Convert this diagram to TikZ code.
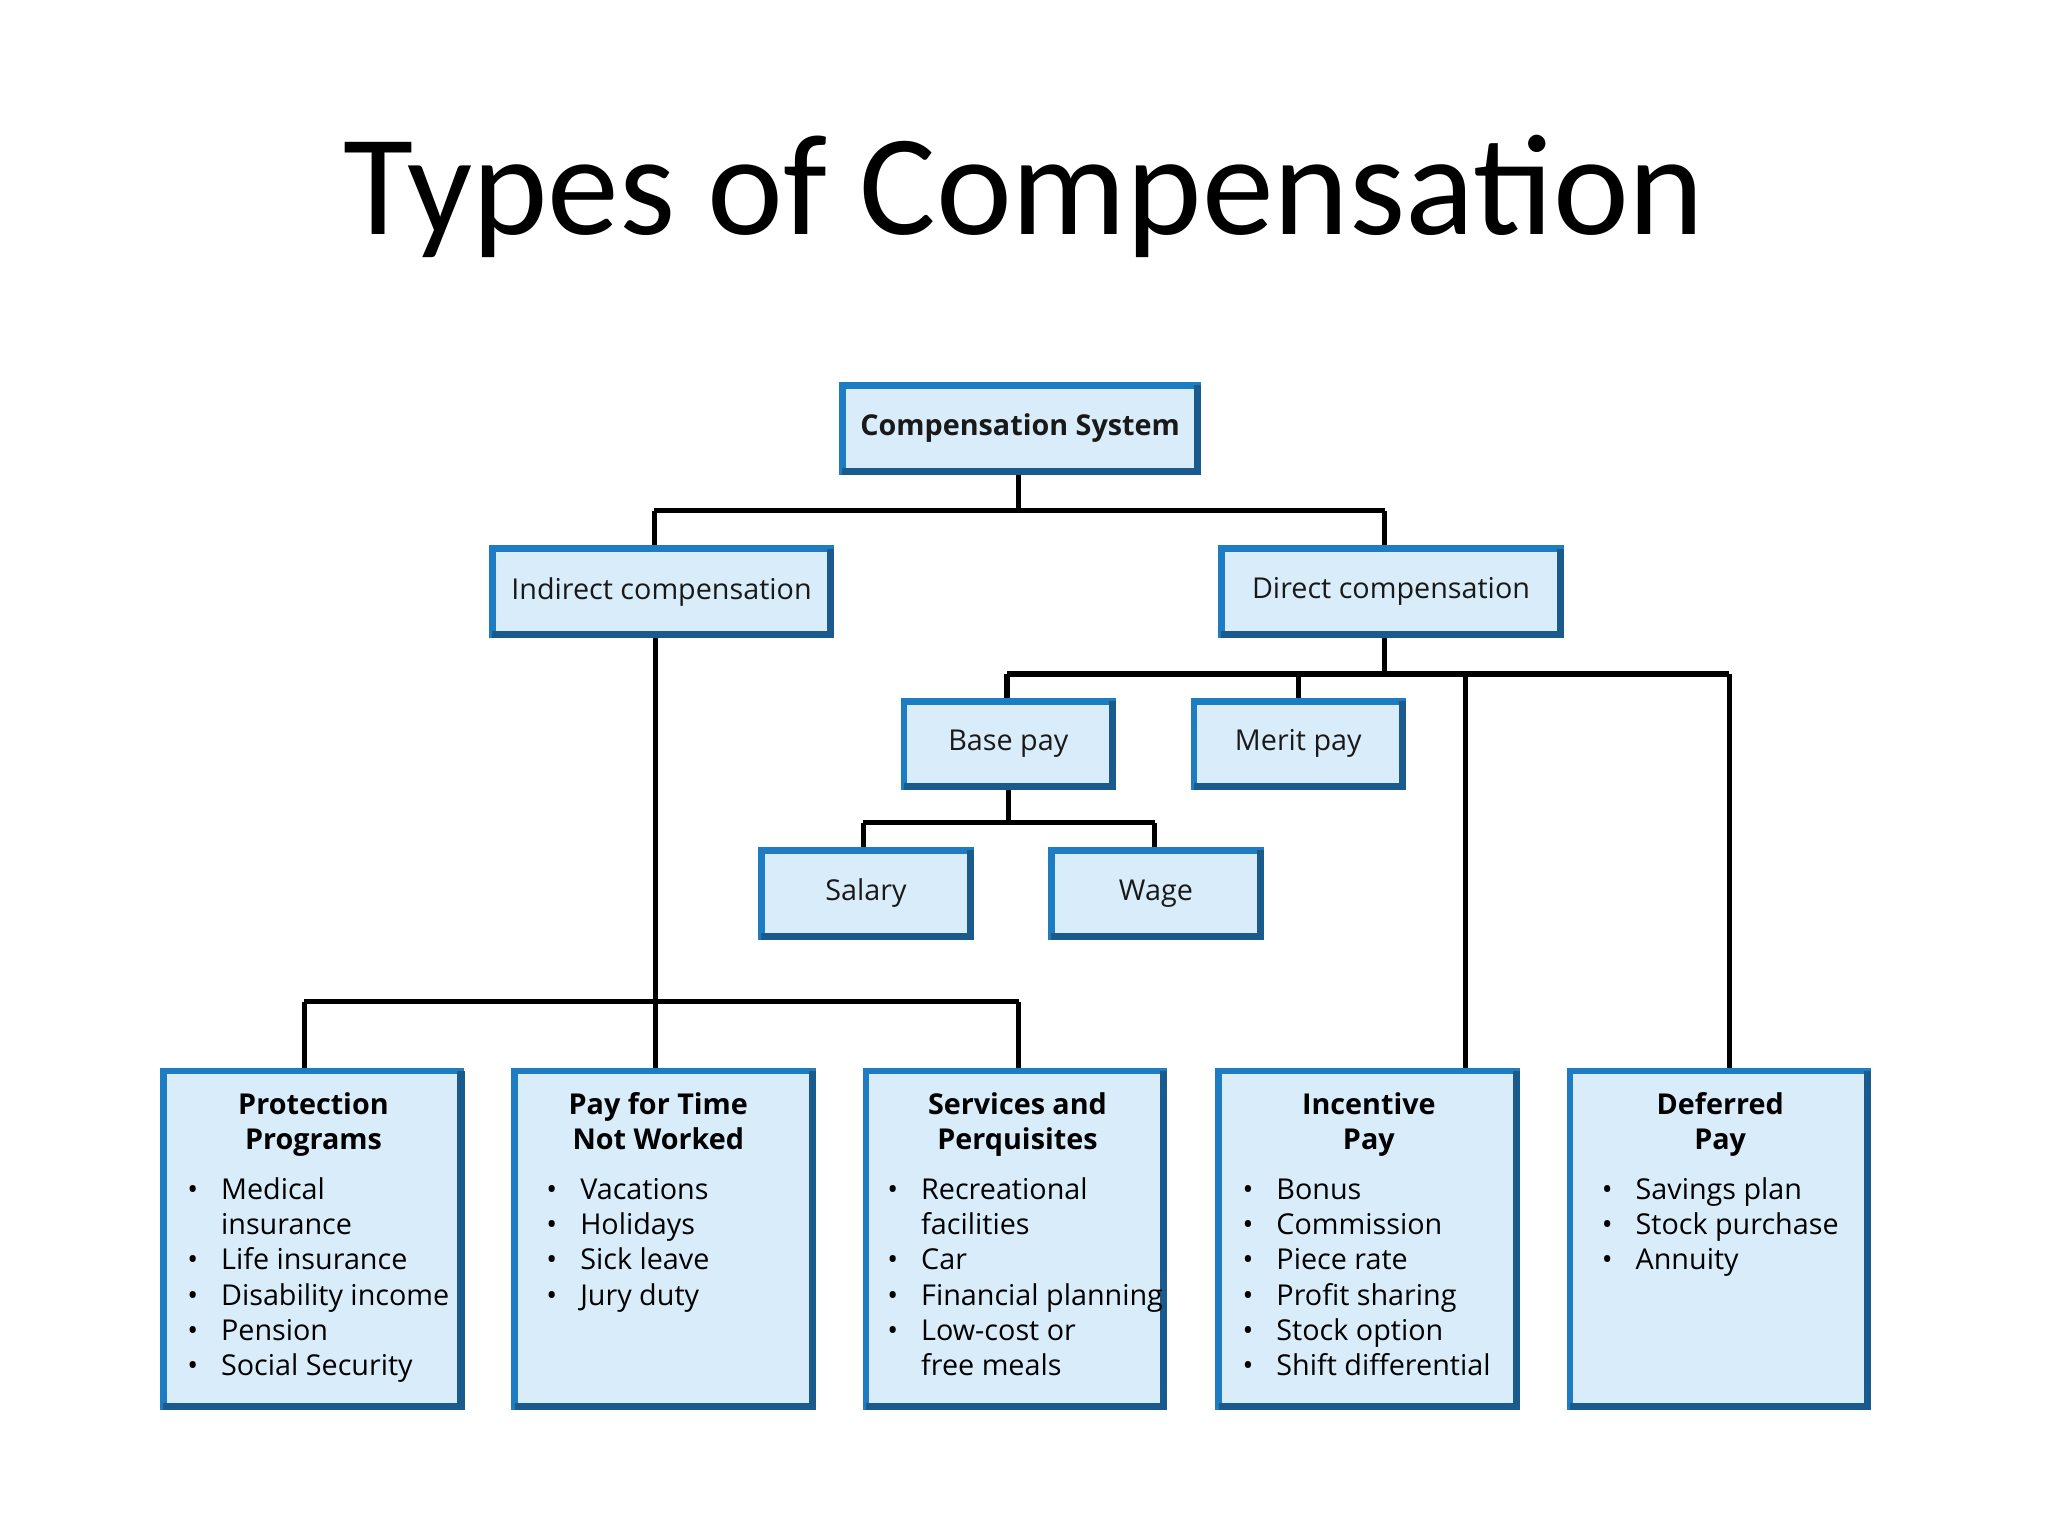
\documentclass[tikz,border=0pt]{standalone}
\usepackage{fontspec}
\setmainfont{Open Sans}
\newfontfamily\titlefont{Carlito}
\definecolor{bblue}{HTML}{1E7DC2}
\definecolor{bdark}{HTML}{1A5A8C}
\definecolor{bfill}{HTML}{D8ECF9}
\begin{document}
\begin{tikzpicture}[x=0.5pt,y=-0.5pt,
  bx/.style={draw=bblue,fill=bfill,line width=2.5pt,inner sep=0pt,outer sep=0pt,
    font=\fontsize{11}{13.5}\selectfont,text=black!90},
  con/.style={line width=2pt,black},
  ttl/.style={font=\fontsize{11}{13.5}\selectfont\bfseries,align=center,anchor=north,inner sep=0pt},
  lst/.style={font=\fontsize{11}{13.5}\selectfont,anchor=north west,inner sep=0pt}]
\useasboundingbox (0,0) rectangle (1568,1176);
\node[font=\titlefont\fontsize{55}{60}\selectfont] (title) at (784,150) {Types of Compensation};
% connectors
\coordinate (j1) at (780,391);
\coordinate (j1l) at (501,391);
\coordinate (j1r) at (1060,391);
\coordinate (j2) at (1060,516);
\coordinate (j2l) at (771,516);
\coordinate (j2r) at (1324,516);
\coordinate (j2m) at (994,516);
\coordinate (j2i) at (1122,516);
\coordinate (j3) at (772,630);
\coordinate (j3l) at (661,630);
\coordinate (j3r) at (884,630);
\coordinate (j4) at (502,767);
\coordinate (j4l) at (233,767);
\coordinate (j4r) at (780,767);
\draw[con] (780,361) -- (j1);
\draw[con] (j1l) -- (j1r);
\draw[con] (j1l) -- (501,420);
\draw[con] (j1r) -- (1060,420);
\draw[con] (1060,486) -- (j2);
\draw[con] (j2l) -- (j2r);
\draw[con] (j2l) -- (771,537);
\draw[con] (j2m) -- (994,537);
\draw[con] (j2i) -- (1122,820);
\draw[con] (j2r) -- (1324,820);
\draw[con] (772,602) -- (j3);
\draw[con] (j3l) -- (j3r);
\draw[con] (j3l) -- (661,651);
\draw[con] (j3r) -- (884,651);
\draw[con] (502,486) -- (502,820);
\draw[con] (j4l) -- (j4r);
\draw[con] (j4l) -- (233,820);
\draw[con] (j4r) -- (780,820);
% boxes
\newcommand\mkbox[6]{%
  \node[bx,minimum width=#4*0.5pt-#2*0.5pt,minimum height=#5*0.5pt-#3*0.5pt] (#1) at ({(#2+#4)/2},{(#3+#5)/2}) {#6};
  \draw[bdark,line width=2.8pt] (#1.north east) -- (#1.south east) -- (#1.south west);}
\mkbox{cs}{645}{295}{917}{361}{\bfseries Compensation System}
\mkbox{ind}{377}{420}{636}{486}{Indirect compensation}
\mkbox{dir}{935}{420}{1195}{486}{Direct compensation}
\mkbox{base}{692}{537}{852}{602}{Base pay}
\mkbox{merit}{914}{537}{1074}{602}{Merit pay}
\mkbox{sal}{583}{651}{743}{717}{Salary}
\mkbox{wage}{805}{651}{965}{717}{Wage}
\mkbox{prot}{125}{820}{353}{1077}{}
\mkbox{pay}{394}{820}{622}{1077}{}
\mkbox{serv}{663}{820}{891}{1077}{}
\mkbox{inc}{933}{820}{1161}{1077}{}
\mkbox{def}{1202}{820}{1430}{1077}{}
\newcommand\bl{\textbullet&}
\node[ttl] (protT) at (240,836) {Protection\\Programs};
\node[lst] (protL) at (143,899) {\begin{tabular}{@{}l@{\hspace{0.8em}}l@{}}\bl Medical\\ & insurance\\ \bl Life insurance\\ \bl Disability income\\ \bl Pension\\ \bl Social Security\end{tabular}};
\node[ttl] (payT) at (504,836) {Pay for Time\\Not Worked};
\node[lst] (payL) at (418,899) {\begin{tabular}{@{}l@{\hspace{0.8em}}l@{}}\bl Vacations\\ \bl Holidays\\ \bl Sick leave\\ \bl Jury duty\end{tabular}};
\node[ttl] (servT) at (779,836) {Services and\\Perquisites};
\node[lst] (servL) at (679,899) {\begin{tabular}{@{}l@{\hspace{0.8em}}l@{}}\bl Recreational\\ & facilities\\ \bl Car\\ \bl Financial planning\\ \bl Low-cost or\\ & free meals\end{tabular}};
\node[ttl] (incT) at (1048,836) {Incentive\\Pay};
\node[lst] (incL) at (951,899) {\begin{tabular}{@{}l@{\hspace{0.8em}}l@{}}\bl Bonus\\ \bl Commission\\ \bl Piece rate\\ \bl Profit sharing\\ \bl Stock option\\ \bl Shift differential\end{tabular}};
\node[ttl] (defT) at (1317,836) {Deferred\\Pay};
\node[lst] (defL) at (1226,899) {\begin{tabular}{@{}l@{\hspace{0.8em}}l@{}}\bl Savings plan\\ \bl Stock purchase\\ \bl Annuity\end{tabular}};
\end{tikzpicture}
\end{document}
